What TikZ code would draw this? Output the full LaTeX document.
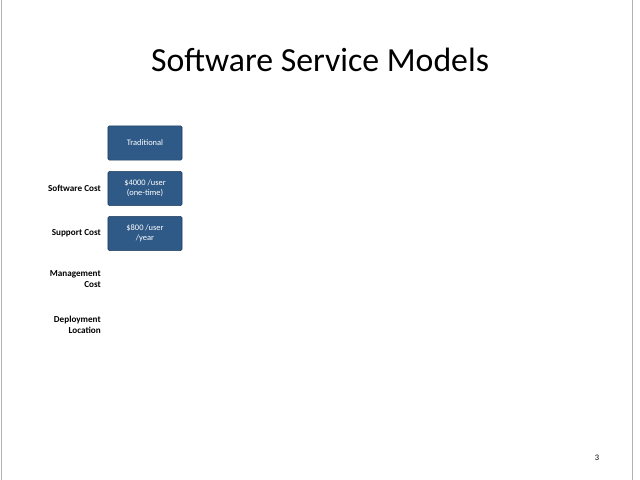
\documentclass[tikz,border=0pt]{standalone}
\usepackage{fontspec}
\setmainfont{Carlito}
\usetikzlibrary{positioning}
\definecolor{boxblue}{HTML}{2F5A88}
\definecolor{boxedge}{HTML}{1F3D5E}
\tikzset{
  modelbox/.style={draw=boxedge,fill=boxblue,rounded corners=1pt,minimum width=1.85cm,minimum height=0.86cm,
    text=white,font=\fontsize{6}{7}\selectfont,align=center,inner sep=1pt},
  rowlabel/.style={anchor=east,font=\fontsize{6.5}{7.5}\selectfont\bfseries,align=right,inner sep=0pt}
}
\begin{document}
\begin{tikzpicture}[x=0.025cm,y=-0.025cm]
\useasboundingbox (0,0) rectangle (640,480);
\draw[gray!60] (1,0) -- (1,480);
\draw[gray!60] (632,0) -- (632,480);
\node (title) at (320,60) {\fontsize{24}{28}\selectfont Software Service Models};
\node[modelbox] (trad) at (145,143) {Traditional};
\node[modelbox] (swcost) at (145,188.5) {\$4000 /user\\(one-time)};
\node[modelbox] (supcost) at (145,233.5) {\$800 /user\\/year};
\node[rowlabel] (swlabel) at (101,188) {Software Cost};
\node[rowlabel] (suplabel) at (101,233) {Support Cost};
\node[rowlabel] (mglabel) at (101,279) {Management\\Cost};
\node[rowlabel] (dplabel) at (101,325) {Deployment\\Location};
\node[font=\fontsize{6}{7}\selectfont] (page) at (597,458) {3};
\end{tikzpicture}
\end{document}
